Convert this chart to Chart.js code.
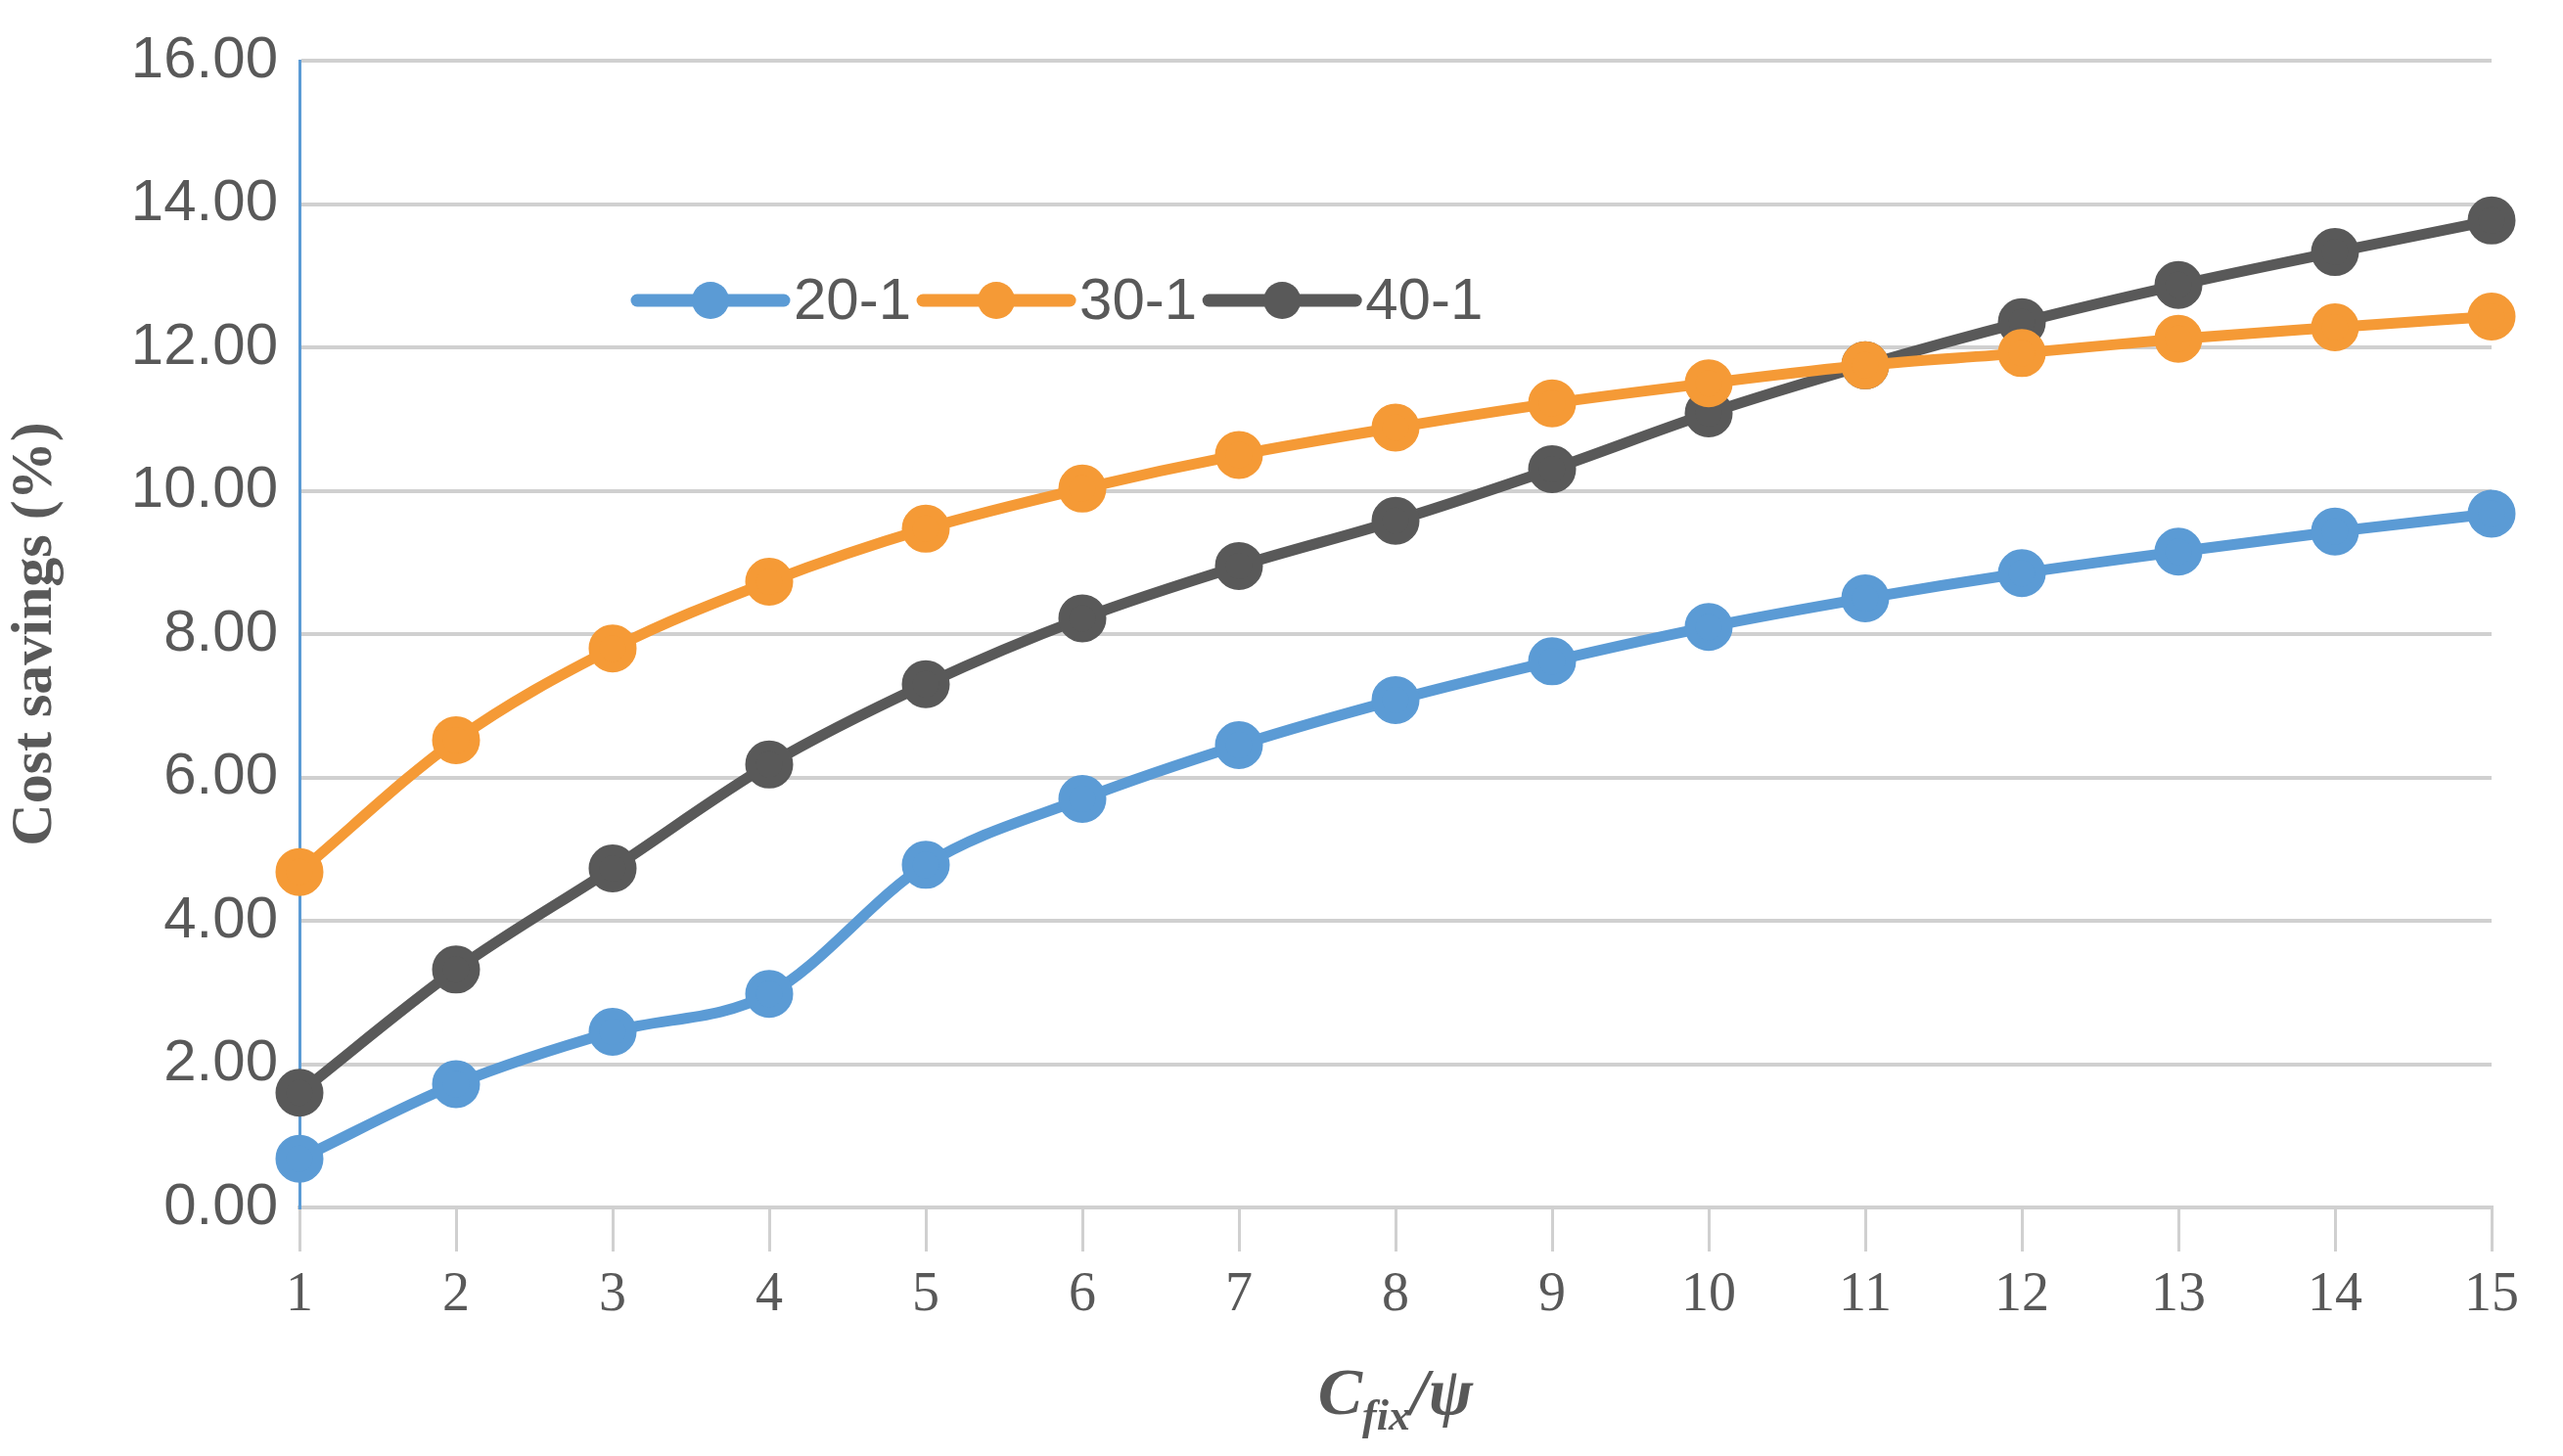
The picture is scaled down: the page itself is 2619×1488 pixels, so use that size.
<!DOCTYPE html>
<html><head><meta charset="utf-8">
<script src="https://cdn.jsdelivr.net/npm/chart.js@4"></script>
<style>html,body{margin:0;padding:0;background:#fff}#w{width:2619px;height:1488px}</style>
</head><body><div id="w"><canvas id="c"></canvas></div>
<script>
const categories = ['1','2','3','4','5','6','7','8','9','10','11','12','13','14','15'];
const series20 = [0.68,1.72,2.45,2.98,4.78,5.70,6.45,7.08,7.62,8.10,8.50,8.85,9.15,9.43,9.68];
const series30 = [4.68,6.52,7.80,8.73,9.47,10.03,10.50,10.88,11.22,11.50,11.75,11.92,12.12,12.28,12.43];
const series40 = [1.60,3.32,4.73,6.18,7.30,8.22,8.95,9.58,10.30,11.08,11.75,12.35,12.87,13.33,13.77];
const seriesNames = ['20-1','30-1','40-1'];
const colors = ['#5B9BD5','#F59A36','#595959'];

function ds(label, data, color){
  return {label, data, borderColor: color, backgroundColor: color, pointBackgroundColor: color,
    pointBorderColor: color, borderWidth: 11, pointRadius: 19, pointHoverRadius: 19,
    cubicInterpolationMode: 'monotone', tension: 0.4, fill: false};
}

const overlay = {
  id: 'overlay',
  afterDraw(chart){
    const ctx = chart.ctx;
    ctx.save();
    let x = 651; const y = 307;
    ctx.font = '60px "Liberation Sans", Arial';
    ctx.textBaseline = 'middle';
    chart.data.datasets.forEach(d => {
      ctx.strokeStyle = d.borderColor; ctx.lineWidth = 13; ctx.lineCap = 'round';
      ctx.beginPath(); ctx.moveTo(x, y); ctx.lineTo(x + 150, y); ctx.stroke();
      ctx.fillStyle = d.borderColor;
      ctx.beginPath(); ctx.arc(x + 75, y, 19, 0, Math.PI*2); ctx.fill();
      ctx.fillStyle = '#595959';
      ctx.fillText(d.label, x + 160, y + 2);
      x += 160 + ctx.measureText(d.label).width + 12;
    });
    const cx = (chart.chartArea.left + chart.chartArea.right)/2;
    const ty = 1445;
    ctx.fillStyle = '#595959';
    ctx.textBaseline = 'alphabetic';
    ctx.font = 'italic bold 68px "Liberation Serif", serif';
    const w1 = ctx.measureText('C').width;
    ctx.font = 'italic bold 44px "Liberation Serif", serif';
    const w2 = ctx.measureText('fix').width;
    ctx.font = 'italic bold 68px "Liberation Serif", serif';
    const w3 = ctx.measureText('/ψ').width;
    let sx = cx - (w1+w2+w3)/2;
    ctx.fillText('C', sx, ty); sx += w1;
    ctx.font = 'italic bold 44px "Liberation Serif", serif';
    ctx.fillText('fix', sx, ty + 16); sx += w2;
    ctx.font = 'italic bold 68px "Liberation Serif", serif';
    ctx.fillText('/ψ', sx, ty);
    ctx.restore();
  }
};

new Chart(document.getElementById('c'), {
  type: 'line',
  data: { labels: categories, datasets: [
    ds(seriesNames[0], series20, colors[0]),
    ds(seriesNames[1], series30, colors[1]),
    ds(seriesNames[2], series40, colors[2])
  ]},
  options: {
    responsive: true, maintainAspectRatio: false, animation: false,
    layout: { padding: { top: 62, right: 73, left: 0, bottom: 0 } },
    plugins: { legend: { display: false }, tooltip: { enabled: false } },
    scales: {
      x: {
        offset: false,
        grid: { display: true, drawOnChartArea: false, drawTicks: true, tickLength: 45, color: '#D0D0D0', lineWidth: 3 },
        border: { display: true, color: '#D0D0D0', width: 4 },
        ticks: { color: '#595959', font: { family: '"Liberation Serif", serif', size: 56 }, padding: 12, maxRotation: 0, autoSkip: false },
        afterFit(s){ s.height = 254; }
      },
      y: {
        min: 0, max: 16,
        ticks: { stepSize: 2, color: '#595959', font: { family: '"Liberation Sans", Arial', size: 60 }, padding: 22,
          callback: v => v.toFixed(2) },
        grid: { color: '#D0D0D0', lineWidth: 4, drawTicks: false },
        border: { display: true, color: '#5B9BD5', width: 3 },
        title: { display: true, text: 'Cost savings (%)', color: '#595959', font: { family: '"Liberation Serif", serif', size: 60, weight: 'bold' }, padding: 0 },
        afterFit(s){ s.width = 306; }
      }
    }
  },
  plugins: [overlay]
});
</script></body></html>
